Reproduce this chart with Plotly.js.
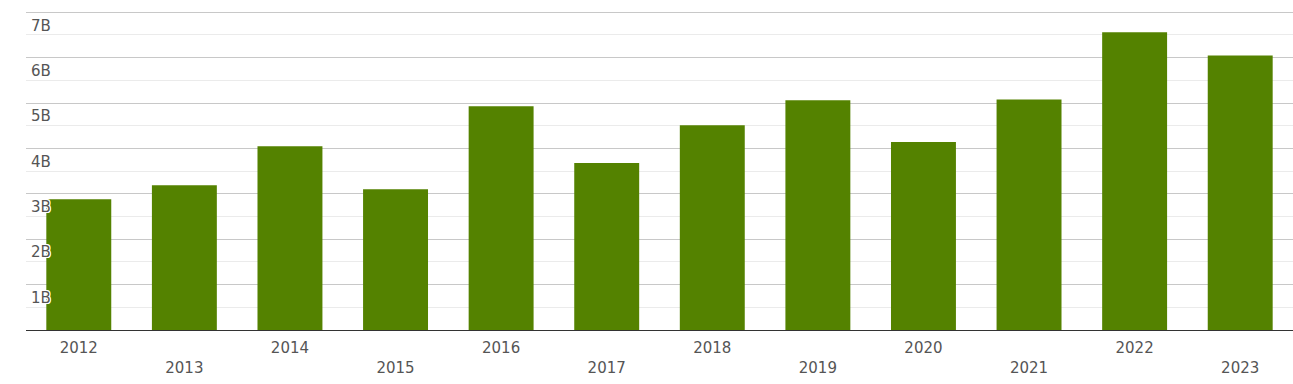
<!DOCTYPE html>
<html>
<head>
<meta charset="utf-8">
<script src="https://cdn.plot.ly/plotly-3.0.1.min.js"></script>
<style>html,body{margin:0;padding:0;background:#fff;}#chart{width:1293px;height:384px;}</style>
</head>
<body>
<div id="chart"></div>
<script>
var years = [2012, 2013, 2014, 2015, 2016, 2017, 2018, 2019, 2020, 2021, 2022, 2023];
var values = [2.88, 3.19, 4.05, 3.10, 4.93, 3.68, 4.51, 5.06, 4.14, 5.08, 6.56, 6.05];
var yTickVals = [1, 2, 3, 4, 5, 6, 7];
var yTickText = ['1B', '2B', '3B', '4B', '5B', '6B', '7B'];
var evenYears = years.filter(function (y, i) { return i % 2 === 0; });
var oddYears = years.filter(function (y, i) { return i % 2 === 1; });

var halo = '-1px -1px 0 #fff, 1px -1px 0 #fff, -1px 1px 0 #fff, 1px 1px 0 #fff, 0 1px 0 #fff, 0 -1px 0 #fff, 1px 0 0 #fff, -1px 0 0 #fff';
var xr = [years[0] - 0.5, years[years.length - 1] + 0.5];

Plotly.newPlot('chart', [{
  type: 'bar',
  x: years,
  y: values.map(function (v) { return v * 1e9; }),
  marker: { color: '#548200' },
  hoverinfo: 'x+y'
}, {
  type: 'scatter', mode: 'markers',
  x: oddYears, y: oddYears.map(function () { return 0; }),
  xaxis: 'x2', yaxis: 'y',
  marker: { opacity: 0, size: 1 },
  hoverinfo: 'skip', showlegend: false
}], {
  width: 1293, height: 384,
  margin: { l: 26, r: 0, t: 10, b: 54 },
  paper_bgcolor: '#fff', plot_bgcolor: '#fff',
  bargap: 0.385,
  showlegend: false,
  font: { family: 'DejaVu Sans, sans-serif', size: 15, color: '#444' },
  xaxis: {
    type: 'linear', range: xr,
    tickmode: 'array', tickvals: evenYears, ticktext: evenYears.map(String),
    showgrid: false, zeroline: false, ticks: '', showline: true, linecolor: '#333', linewidth: 1,
    ticklabelstandoff: 4,
    tickfont: { size: 15, color: '#555' },
    fixedrange: true
  },
  xaxis2: {
    type: 'linear', range: xr, overlaying: 'x', side: 'bottom', anchor: 'y',
    tickmode: 'array', tickvals: oddYears, ticktext: oddYears.map(String),
    showgrid: false, zeroline: false, ticks: '', showline: false,
    ticklabelstandoff: 27,
    tickfont: { size: 15, color: '#555' },
    fixedrange: true
  },
  yaxis: {
    range: [0, 7.05e9],
    tickmode: 'array', tickvals: yTickVals.map(function (v) { return v * 1e9; }), ticktext: yTickText,
    ticklabelposition: 'inside', ticklabelshift: 13, ticklabelstandoff: 2,
    showgrid: true, gridcolor: '#c8c8c8', gridwidth: 1,
    zeroline: false, showline: false, ticks: '',
    minor: { tickmode: 'linear', tick0: 0, dtick: 0.5e9, showgrid: true, gridcolor: '#ebebeb', gridwidth: 1 },
    tickfont: { size: 15, color: '#555', shadow: halo },
    fixedrange: true
  }
}, { displayModeBar: false, staticPlot: true });
</script>
</body>
</html>
